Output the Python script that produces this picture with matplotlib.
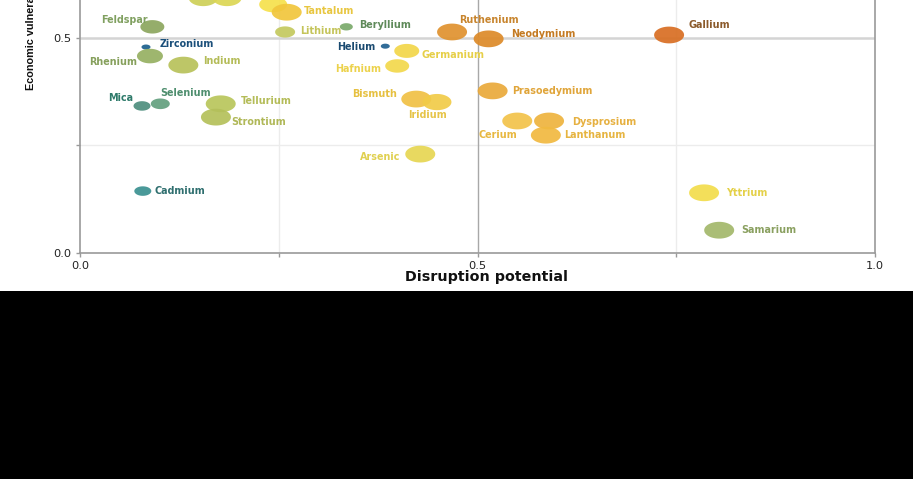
import numpy as np
import matplotlib
matplotlib.use("Agg")
import matplotlib.pyplot as plt
from matplotlib.path import Path
from matplotlib.patches import Rectangle

# ---------------- data ----------------
names = ["Barite", "", "", "Tantalum", "Feldspar", "Lithium", "Beryllium",
         "Ruthenium", "Neodymium", "Gallium", "Zirconium", "Helium",
         "Germanium", "Rhenium", "Indium", "Hafnium", "Mica", "Selenium",
         "Tellurium", "Strontium", "Bismuth", "Iridium", "Prasoedymium",
         "Cerium", "Dysprosium", "Lanthanum", "Arsenic", "Cadmium",
         "Yttrium", "Samarium"]
disruption = [0.155, 0.185, 0.243, 0.260, 0.091, 0.258, 0.335,
              0.468, 0.514, 0.741, 0.083, 0.384,
              0.411, 0.088, 0.130, 0.399, 0.078, 0.101,
              0.177, 0.171, 0.423, 0.449, 0.519,
              0.550, 0.590, 0.586, 0.428, 0.079,
              0.785, 0.804]
vulnerability = [0.593, 0.593, 0.578, 0.560, 0.526, 0.514, 0.526,
                 0.514, 0.498, 0.507, 0.479, 0.481,
                 0.470, 0.458, 0.437, 0.435, 0.342, 0.347,
                 0.347, 0.316, 0.358, 0.351, 0.377,
                 0.307, 0.307, 0.274, 0.230, 0.144,
                 0.140, 0.053]
bubble = [29, 29, 28, 30, 24, 20, 13,
          30, 30, 30, 9, 9,
          25, 26, 30, 24, 17, 19,
          30, 30, 30, 29, 30,
          30, 30, 30, 30, 17,
          30, 30]

# ---------------- styles ----------------
colors = ["#cdd058", "#dcd653", "#f6e14c", "#f1c63c", "#8ca65e", "#c4c95e", "#7aa96a",
          "#e0922e", "#dd8a28", "#d86e22", "#1c5f8c", "#1f5f8f",
          "#f3d64a", "#96b062", "#b8c25a", "#f3d84c", "#4e8e7e", "#63a07e",
          "#b9c65b", "#b4c05a", "#f0c044", "#f1cb48", "#eaa93a",
          "#f3c34a", "#eeb33e", "#f1b940", "#e6d652", "#3a9090",
          "#f2dd4c", "#a3b86a"]
label_colors = ["#c8c858", "#c8c858", "#e8cf48", "#e8c640", "#80a060", "#c4c45a", "#5f8a5a",
                "#c8852e", "#c47a22", "#8b5a2b", "#1a4f7a", "#1a4a70",
                "#e6cf48", "#86a05c", "#b4bc58", "#ecd24c", "#2e7a6a", "#4e8e6e",
                "#b4bc58", "#b0b858", "#e6c040", "#e6c448", "#e0a53a",
                "#e8b840", "#e6b040", "#e6b440", "#e0d050", "#2e6e6e",
                "#e4d048", "#8aa060"]
# label offsets in pixels (dx, dy up) and horizontal alignment
offsets = [(-18, 1, "right"), (0, 30, "left"), (0, 30, "left"), (17, 1, "left"),
           (-5, 7, "right"), (15, 1, "left"), (13, 2, "left"),
           (7, 12, "left"), (22, 5, "left"), (19, 10, "left"), (14, 3, "left"),
           (-10, -1, "right"), (15, -4, "left"), (-13, -6, "right"), (20, 4, "left"),
           (-16, -3, "right"), (-9, 8, "right"), (0, 11, "left"), (20, 3, "left"),
           (15, -5, "left"), (-19, 5, "right"), (-9, -13, "center"), (20, 0, "left"),
           (0, -14, "right"), (23, -1, "left"), (18, 0, "left"), (-20, -3, "right"),
           (12, 0, "left"), (22, 0, "left"), (22, 0, "left")]

W, H = 913, 479
fig = plt.figure(figsize=(W / 100, H / 100), dpi=100)
fig.patch.set_facecolor("white")

# axes: x 0..1 -> px 80..875 ; y 0 -> px 253, 1.0 -> px -177
ax = fig.add_axes([80 / W, (H - 253) / H, 795 / W, 430 / H])
ax.set_xlim(0, 1.0)
ax.set_ylim(0, 1.0)

# ellipse marker (image is horizontally stretched)
t = np.linspace(0, 2 * np.pi, 60)
ell = Path(np.column_stack([np.cos(t), 0.56 * np.sin(t)]), closed=True)

sizes = [(b * 0.72) ** 2 for b in bubble]
ax.scatter(disruption, vulnerability, s=sizes, c=colors, marker=ell,
           alpha=0.92, linewidths=0, zorder=3)

for i, n in enumerate(names):
    if not n:
        continue
    dx, dy, ha = offsets[i]
    ax.annotate(n, (disruption[i], vulnerability[i]), xytext=(dx, dy),
                textcoords="offset pixels", ha=ha, va="center",
                fontsize=6.9, fontweight="bold", color=label_colors[i],
                family="DejaVu Sans", zorder=4)

# grid
ax.set_xticks([0, 0.25, 0.5, 0.75, 1.0])
ax.set_xticklabels(["0.0", "", "0.5", "", "1.0"])
ax.set_yticks([0, 0.25, 0.5, 0.75, 1.0])
ax.set_yticklabels(["0.0", "", "0.5", "", "1.0"])
for v in (0.25, 0.75):
    ax.axvline(v, color="#ececec", lw=1.0, zorder=1)
    ax.axhline(v, color="#ececec", lw=1.0, zorder=1)
ax.axvline(0.5, color="#a8a8a8", lw=1.0, zorder=2)
ax.axhline(0.5, color="#d4d4d4", lw=1.8, zorder=2)

for sp in ("left", "bottom", "right"):
    ax.spines[sp].set_color("#9a9a9a")
    ax.spines[sp].set_linewidth(1.2)
ax.spines["top"].set_visible(False)
ax.tick_params(axis="both", length=3, width=1, color="#9a9a9a",
               labelsize=8.2, labelcolor="#222222", pad=3)

ax.set_xlabel("Disruption potential", fontsize=10.3, fontweight="bold",
              color="#111111", family="DejaVu Sans")
ax.xaxis.set_label_coords((486 - 80) / 795, (253 - 277) / 430)
ax.xaxis.label.set_va("center")

fig.text(31 / W, 1 - 90 / H, "Economic vulnerability", rotation=90,
         ha="center", va="bottom", fontsize=7.8, fontweight="bold",
         family=["Liberation Sans Narrow", "Liberation Sans", "DejaVu Sans"],
         color="#111111")

# black lower band
fig.patches.append(Rectangle((0, 0), 1, (H - 291) / H, transform=fig.transFigure,
                             facecolor="black", edgecolor="none", zorder=10))

fig.savefig("out.png", dpi=100, facecolor="white")
